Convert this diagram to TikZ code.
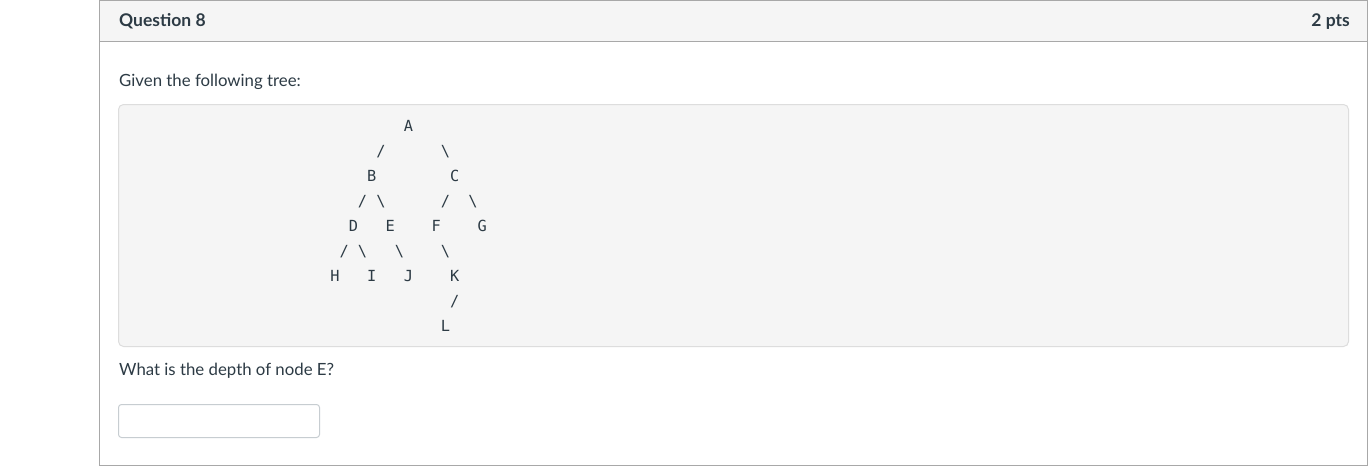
\documentclass[tikz,border=0pt]{standalone}
\usepackage{fontspec}
\setmainfont{Lato}
\newfontfamily\treemono{DejaVu Sans Mono}
\definecolor{txt}{HTML}{2D3B45}
\definecolor{hdrbg}{HTML}{F5F5F5}
\definecolor{outerline}{HTML}{A8A8A8}
\definecolor{boxline}{HTML}{DDDDDD}
\definecolor{inputline}{HTML}{C7CDD1}
\tikzset{
  body/.style={font=\fontsize{16.8}{20}\selectfont, text=txt, inner sep=0pt},
  hdr/.style={font=\fontsize{17.5}{20}\selectfont\bfseries, text=txt, inner sep=0pt},
  tch/.style={font=\treemono\fontsize{15.3}{18}\selectfont, text=txt, inner sep=0pt, anchor=base},
}
\newcommand{\tx}[1]{\fpeval{335+9.2*(#1)}}
\newcommand{\ty}[1]{\fpeval{131.2+25*(#1)}}
\begin{document}
\begin{tikzpicture}[x=1pt,y=-1pt]
\useasboundingbox (0,0) rectangle (1370,467);
\fill[white] (0,0) rectangle (1370,467);
% outer frame and header
\fill[hdrbg] (99.5,0.5) rectangle (1367.5,41.5);
\draw[outerline,line width=1pt] (99.5,0.5) rectangle (1367.5,465.5);
\draw[outerline,line width=1pt] (99.5,41.5) -- (1367.5,41.5);
\node[hdr,anchor=base west] (qtitle) at (119,26.5) {Question 8};
\node[hdr,anchor=base east] (pts) at (1350,26.5) {2 pts};
\node[body,anchor=base west] (given) at (119,86) {Given the following tree:};
% tree panel
\draw[boxline,fill=hdrbg,rounded corners=5pt,line width=1pt] (118.5,104.5) rectangle (1348.5,346.5);
\node[tch] (A) at (\tx{8},\ty{0}) {A};
\node[tch] (s1) at (\tx{5},\ty{1}) {/};
\node[tch] (s2) at (\tx{12},\ty{1}) {\textbackslash};
\node[tch] (B) at (\tx{4},\ty{2}) {B};
\node[tch] (C) at (\tx{13},\ty{2}) {C};
\node[tch] (s3) at (\tx{3},\ty{3}) {/};
\node[tch] (s4) at (\tx{5},\ty{3}) {\textbackslash};
\node[tch] (s5) at (\tx{12},\ty{3}) {/};
\node[tch] (s6) at (\tx{15},\ty{3}) {\textbackslash};
\node[tch] (D) at (\tx{2},\ty{4}) {D};
\node[tch] (E) at (\tx{6},\ty{4}) {E};
\node[tch] (F) at (\tx{11},\ty{4}) {F};
\node[tch] (G) at (\tx{16},\ty{4}) {G};
\node[tch] (s7) at (\tx{1},\ty{5}) {/};
\node[tch] (s8) at (\tx{3},\ty{5}) {\textbackslash};
\node[tch] (s9) at (\tx{7},\ty{5}) {\textbackslash};
\node[tch] (s10) at (\tx{12},\ty{5}) {\textbackslash};
\node[tch] (H) at (\tx{0},\ty{6}) {H};
\node[tch] (I) at (\tx{4},\ty{6}) {I};
\node[tch] (J) at (\tx{8},\ty{6}) {J};
\node[tch] (K) at (\tx{13},\ty{6}) {K};
\node[tch] (s11) at (\tx{13},\ty{7}) {/};
\node[tch] (L) at (\tx{12},\ty{8}) {L};
% question
\node[body,anchor=base west] (ask) at (119,375) {What is the depth of node E?};
\draw[inputline,fill=white,rounded corners=3pt,line width=1pt] (118.5,404.5) rectangle (319.5,437.5);
\end{tikzpicture}
\end{document}
